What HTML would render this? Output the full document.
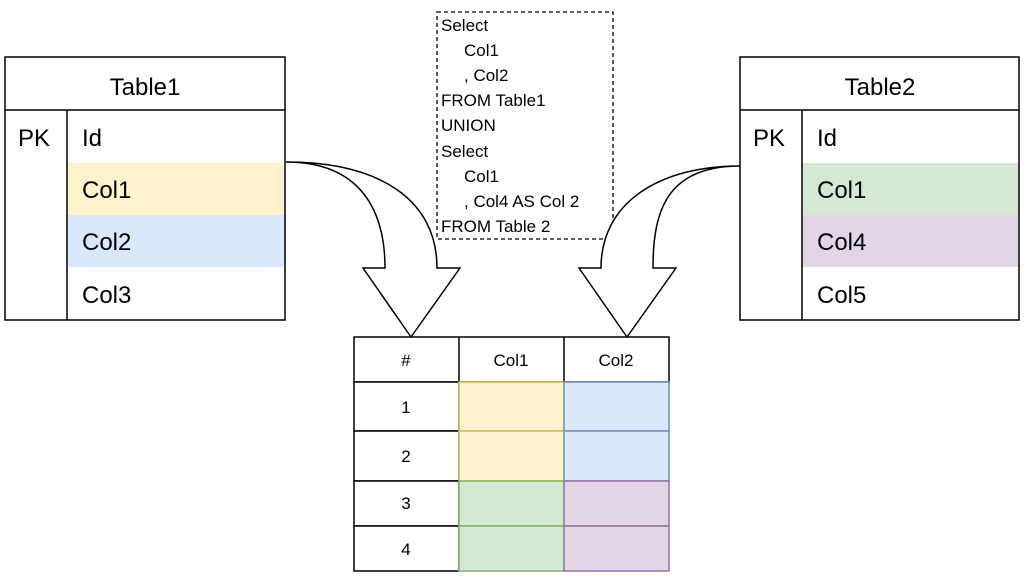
<!DOCTYPE html>
<html><head><meta charset="utf-8"><style>
html,body{margin:0;padding:0;background:#fff;}
svg{display:block;font-family:"Liberation Sans",Arial,sans-serif;}
</style></head><body>
<svg width="1034" height="578" viewBox="0 0 1034 578" xmlns="http://www.w3.org/2000/svg">
<!-- Table1 -->
<rect x="67" y="163" width="218" height="52" fill="#fff2cc"/>
<rect x="67" y="215" width="218" height="52" fill="#dae8fc"/>
<rect x="5" y="57" width="280" height="263" fill="none" stroke="#000" stroke-width="1.5"/>
<line x1="5" y1="110" x2="285" y2="110" stroke="#000" stroke-width="1.5"/>
<line x1="67" y1="110" x2="67" y2="320" stroke="#000" stroke-width="1.5"/>
<g font-size="24" fill="#000">
<text x="145" y="95" text-anchor="middle">Table1</text>
<text x="18" y="146">PK</text>
<text x="82" y="146">Id</text>
<text x="82" y="198">Col1</text>
<text x="82" y="250">Col2</text>
<text x="82" y="303">Col3</text>
</g>
<!-- Table2 -->
<rect x="802" y="163" width="217" height="52" fill="#d5e8d4"/>
<rect x="802" y="215" width="217" height="52" fill="#e1d5e7"/>
<rect x="740" y="57" width="279" height="263" fill="none" stroke="#000" stroke-width="1.5"/>
<line x1="740" y1="110" x2="1019" y2="110" stroke="#000" stroke-width="1.5"/>
<line x1="802" y1="110" x2="802" y2="320" stroke="#000" stroke-width="1.5"/>
<g font-size="24" fill="#000">
<text x="880" y="95" text-anchor="middle">Table2</text>
<text x="753" y="146">PK</text>
<text x="817" y="146">Id</text>
<text x="817" y="198">Col1</text>
<text x="817" y="250">Col4</text>
<text x="817" y="303">Col5</text>
</g>
<!-- SQL box -->
<rect x="437" y="12" width="176" height="227" fill="#fff" stroke="#000" stroke-width="1.3" stroke-dasharray="4 3"/>
<g font-size="17" fill="#000">
<text x="441" y="31">Select</text>
<text x="464" y="56">Col1</text>
<text x="464" y="81">, Col2</text>
<text x="441" y="106">FROM Table1</text>
<text x="441" y="131">UNION</text>
<text x="441" y="157">Select</text>
<text x="464" y="182">Col1</text>
<text x="464" y="207">, Col4 AS Col 2</text>
<text x="441" y="232">FROM Table 2</text>
</g>
<!-- Left arrow -->
<path d="M286,162 C360,162 385,210 385,268 L363,268 L411,337 L460,268 L437,268 C437,200 380,162 286,162 Z" fill="#fff" stroke="#000" stroke-width="1.5" stroke-linejoin="miter"/>
<!-- Right arrow -->
<path d="M740,166 C666,166 653,212 653,268 L676,268 L627,337 L579,268 L601,268 C601,202 660,166 740,166 Z" fill="#fff" stroke="#000" stroke-width="1.5"/>
<!-- Result table -->
<rect x="354" y="337" width="315" height="45" fill="#fff" stroke="#000" stroke-width="1.5"/>
<line x1="459" y1="337" x2="459" y2="382" stroke="#000" stroke-width="1.5"/>
<line x1="564" y1="337" x2="564" y2="382" stroke="#000" stroke-width="1.5"/>
<rect x="354" y="382" width="105" height="49" fill="#fff" stroke="#000" stroke-width="1.5"/>
<rect x="354" y="431" width="105" height="50" fill="#fff" stroke="#000" stroke-width="1.5"/>
<rect x="354" y="481" width="105" height="45" fill="#fff" stroke="#000" stroke-width="1.5"/>
<rect x="354" y="526" width="105" height="45" fill="#fff" stroke="#000" stroke-width="1.5"/>
<rect x="459" y="382" width="105" height="49" fill="#fff2cc" stroke="#d6b656" stroke-width="1.5"/>
<rect x="459" y="431" width="105" height="50" fill="#fff2cc" stroke="#d6b656" stroke-width="1.5"/>
<rect x="564" y="382" width="105" height="49" fill="#dae8fc" stroke="#6c8ebf" stroke-width="1.5"/>
<rect x="564" y="431" width="105" height="50" fill="#dae8fc" stroke="#6c8ebf" stroke-width="1.5"/>
<rect x="459" y="481" width="105" height="45" fill="#d5e8d4" stroke="#82b366" stroke-width="1.5"/>
<rect x="459" y="526" width="105" height="45" fill="#d5e8d4" stroke="#82b366" stroke-width="1.5"/>
<rect x="564" y="481" width="105" height="45" fill="#e1d5e7" stroke="#9673a6" stroke-width="1.5"/>
<rect x="564" y="526" width="105" height="45" fill="#e1d5e7" stroke="#9673a6" stroke-width="1.5"/>
<g font-size="17" fill="#000" text-anchor="middle">
<text x="406" y="366">#</text>
<text x="511" y="366">Col1</text>
<text x="616" y="366">Col2</text>
<text x="406" y="413">1</text>
<text x="406" y="462">2</text>
<text x="406" y="509">3</text>
<text x="406" y="555">4</text>
</g>
</svg>
</body></html>
